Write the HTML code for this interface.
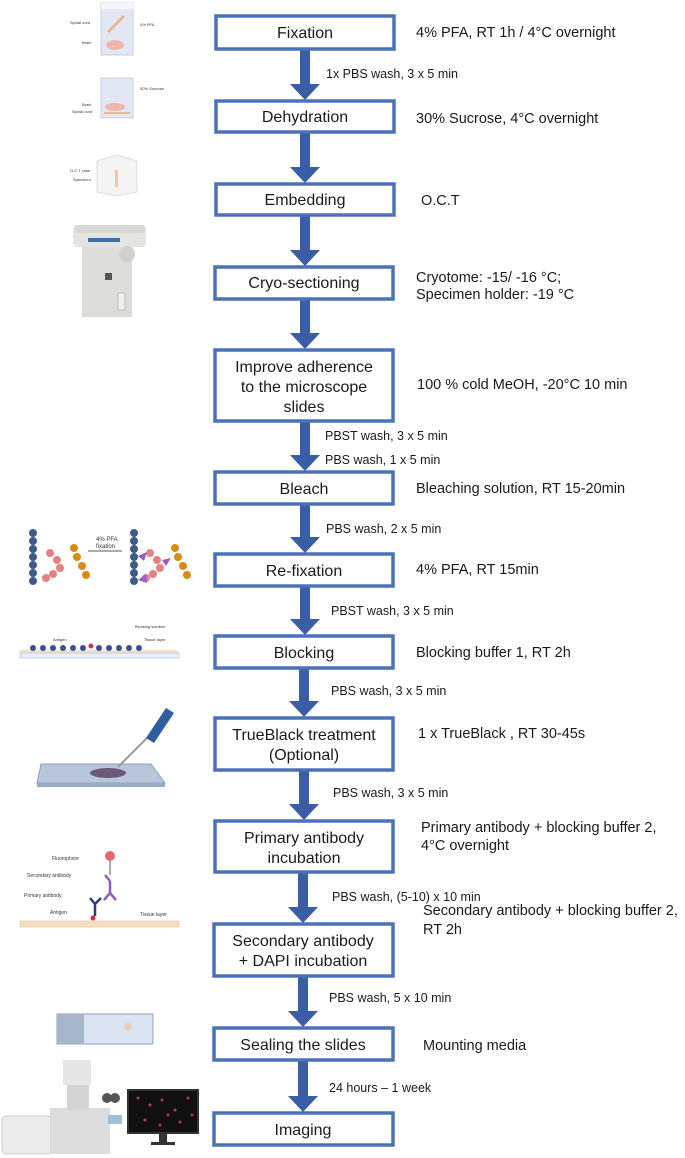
<!DOCTYPE html>
<html><head><meta charset="utf-8"><style>
html,body{margin:0;padding:0;background:#fff;}
svg{display:block;font-family:"Liberation Sans",Arial,sans-serif;}
.b{fill:#fff;stroke:#4a72b8;stroke-width:3.5;}
.t{font-size:16px;fill:#1a1a1a;text-anchor:middle;}
.s{font-size:14.5px;fill:#1a1a1a;}
.c{font-size:12.5px;fill:#1a1a1a;}
.a{fill:#3a5da6;}
.m{font-size:4px;fill:#333;}
</style></head><body>
<svg width="685" height="1158" viewBox="0 0 685 1158" xmlns="http://www.w3.org/2000/svg">
<g class="a">
<path d="M300,50 h10 v34 h10 l-15,16 l-15,-16 h10z"/>
<path d="M300,132 h10 v35 h10 l-15,16 l-15,-16 h10z"/>
<path d="M300,215 h10 v35 h10 l-15,16 l-15,-16 h10z"/>
<path d="M300,299 h10 v34 h10 l-15,16 l-15,-16 h10z"/>
<path d="M300,421 h10 v34 h10 l-15,16 l-15,-16 h10z"/>
<path d="M300,504 h10 v33 h10 l-15,16 l-15,-16 h10z"/>
<path d="M300,586 h10 v33 h10 l-15,16 l-15,-16 h10z"/>
<path d="M299,668 h10 v33 h10 l-15,16 l-15,-16 h10z"/>
<path d="M299,770 h10 v34 h10 l-15,16 l-15,-16 h10z"/>
<path d="M298,872 h10 v35 h10 l-15,16 l-15,-16 h10z"/>
<path d="M298,976 h10 v35 h10 l-15,16 l-15,-16 h10z"/>
<path d="M298,1060 h10 v36 h10 l-15,16 l-15,-16 h10z"/>
</g>
<rect class="b" x="216" y="16" width="178" height="33"/>
<text class="t" x="305" y="38">Fixation</text>
<rect class="b" x="216" y="101" width="178" height="31"/>
<text class="t" x="305" y="122">Dehydration</text>
<rect class="b" x="216" y="184" width="178" height="31"/>
<text class="t" x="305" y="205">Embedding</text>
<rect class="b" x="215" y="267" width="178" height="32"/>
<text class="t" x="304" y="288">Cryo-sectioning</text>
<rect class="b" x="215" y="350" width="178" height="71"/>
<text class="t" x="304" y="372">Improve adherence</text>
<text class="t" x="304" y="392">to the microscope</text>
<text class="t" x="304" y="412">slides</text>
<rect class="b" x="215" y="472" width="178" height="32"/>
<text class="t" x="304" y="494">Bleach</text>
<rect class="b" x="215" y="554" width="178" height="32"/>
<text class="t" x="304" y="576">Re-fixation</text>
<rect class="b" x="215" y="636" width="178" height="32"/>
<text class="t" x="304" y="658">Blocking</text>
<rect class="b" x="215" y="718" width="178" height="52"/>
<text class="t" x="304" y="740">TrueBlack treatment</text>
<text class="t" x="304" y="760">(Optional)</text>
<rect class="b" x="215" y="821" width="178" height="51"/>
<text class="t" x="304" y="843">Primary antibody</text>
<text class="t" x="304" y="863">incubation</text>
<rect class="b" x="214" y="924" width="179" height="52"/>
<text class="t" x="303" y="946">Secondary antibody</text>
<text class="t" x="303" y="966">+ DAPI incubation</text>
<rect class="b" x="214" y="1028" width="179" height="32"/>
<text class="t" x="303" y="1050">Sealing the slides</text>
<rect class="b" x="214" y="1113" width="179" height="32"/>
<text class="t" x="303" y="1135">Imaging</text>
<text class="s" x="416" y="37">4% PFA, RT 1h / 4°C overnight</text>
<text class="s" x="416" y="123">30% Sucrose, 4°C overnight</text>
<text class="s" x="421" y="205">O.C.T</text>
<text class="s" x="416" y="282">Cryotome: -15/ -16 °C;</text>
<text class="s" x="416" y="299">Specimen holder: -19 °C</text>
<text class="s" x="417" y="389">100 % cold MeOH, -20°C 10 min</text>
<text class="s" x="416" y="493">Bleaching solution, RT 15-20min</text>
<text class="s" x="416" y="574">4% PFA, RT 15min</text>
<text class="s" x="416" y="657">Blocking buffer 1, RT 2h</text>
<text class="s" x="418" y="738">1 x TrueBlack , RT 30-45s</text>
<text class="s" x="421" y="832">Primary antibody + blocking buffer 2,</text>
<text class="s" x="421" y="850">4°C overnight</text>
<text class="s" x="423" y="915">Secondary antibody + blocking buffer 2,</text>
<text class="s" x="423" y="934">RT 2h</text>
<text class="s" x="423" y="1050">Mounting media</text>
<text class="c" x="326" y="78">1x PBS wash, 3 x 5 min</text>
<text class="c" x="325" y="440">PBST wash, 3 x 5 min</text>
<text class="c" x="325" y="464">PBS wash, 1 x 5 min</text>
<text class="c" x="326" y="533">PBS wash, 2 x 5 min</text>
<text class="c" x="331" y="615">PBST wash, 3 x 5 min</text>
<text class="c" x="331" y="695">PBS wash, 3 x 5 min</text>
<text class="c" x="333" y="797">PBS wash, 3 x 5 min</text>
<text class="c" x="332" y="901">PBS wash, (5-10) x 10 min</text>
<text class="c" x="329" y="1002">PBS wash, 5 x 10 min</text>
<text class="c" x="329" y="1092">24 hours – 1 week</text>
<!-- fixation jar -->
<rect x="101" y="3" width="32" height="52" fill="#e3e7f4" stroke="#c5cfe0" stroke-width="1"/>
<rect x="101" y="3" width="32" height="6" fill="#f4f6fa"/>
<line x1="108" y1="32" x2="124" y2="16" stroke="#e9b98b" stroke-width="3"/>
<ellipse cx="115" cy="45" rx="9" ry="5" fill="#f0b6ab"/>
<text class="m" x="70" y="24">Spinal cord</text><text class="m" x="140" y="26">4% PFA</text><text class="m" x="82" y="44">Brain</text>
<rect x="101" y="78" width="32" height="40" fill="#e3e7f4" stroke="#c5cfe0" stroke-width="1"/>
<ellipse cx="115" cy="107" rx="10" ry="4" fill="#f0b6ab"/>
<rect x="104" y="112" width="26" height="2" fill="#e9b98b"/>
<text class="m" x="140" y="90">30% Sucrose</text><text class="m" x="82" y="106">Brain</text><text class="m" x="72" y="113">Spinal cord</text>
<path d="M97,161 l20,-6 l20,6 v31 l-20,4 l-20,-4z" fill="#f4f4f4" stroke="#ddd"/>
<rect x="115" y="170" width="3" height="17" fill="#ecc9a6"/>
<text class="m" x="70" y="172">O.C.T cube</text><text class="m" x="73" y="181">Specimen</text>
<!-- cryostat -->
<rect x="73" y="225" width="73" height="22" rx="4" fill="#e4e4e2"/>
<rect x="75" y="225" width="70" height="8" rx="3" fill="#d8d8d4"/>
<rect x="88" y="238" width="32" height="4" fill="#3e6fa8"/>
<rect x="82" y="247" width="50" height="70" fill="#dcdcd8"/>
<circle cx="127" cy="254" r="8" fill="#d0d0cc"/>
<rect x="105" y="273" width="7" height="7" fill="#555"/>
<rect x="118" y="293" width="7" height="17" fill="#f0f0f0" stroke="#bbb"/>
<!-- re-fixation -->
<g fill="#3c5a8c"><circle cx="33" cy="533" r="4"/><circle cx="33" cy="541" r="4"/><circle cx="33" cy="549" r="4"/><circle cx="33" cy="557" r="4"/><circle cx="33" cy="565" r="4"/><circle cx="33" cy="573" r="4"/><circle cx="33" cy="581" r="4"/>
<circle cx="134" cy="533" r="4"/><circle cx="134" cy="541" r="4"/><circle cx="134" cy="549" r="4"/><circle cx="134" cy="557" r="4"/><circle cx="134" cy="565" r="4"/><circle cx="134" cy="573" r="4"/><circle cx="134" cy="581" r="4"/></g>
<g fill="#e88080"><circle cx="50" cy="553" r="4"/><circle cx="57" cy="560" r="4"/><circle cx="60" cy="568" r="4"/><circle cx="53" cy="574" r="4"/><circle cx="46" cy="578" r="4"/><circle cx="150" cy="553" r="4"/><circle cx="157" cy="560" r="4"/><circle cx="160" cy="568" r="4"/><circle cx="153" cy="574" r="4"/><circle cx="146" cy="578" r="4"/></g>
<g fill="#d88c14"><circle cx="74" cy="548" r="4"/><circle cx="77" cy="557" r="4"/><circle cx="82" cy="566" r="4"/><circle cx="86" cy="575" r="4"/><circle cx="175" cy="548" r="4"/><circle cx="178" cy="557" r="4"/><circle cx="183" cy="566" r="4"/><circle cx="187" cy="575" r="4"/></g>
<g fill="#9a5cc8"><path d="M138,556 l9,-4 l-3,9z"/><path d="M162,560 l9,-2 l-5,8z"/><path d="M138,580 l8,-6 l1,9z"/></g>
<line x1="88" y1="551" x2="122" y2="551" stroke="#555" stroke-width="1"/>
<text class="m" x="96" y="541" style="font-size:6px">4% PFA</text><text class="m" x="96" y="548" style="font-size:6px">fixation</text>
<!-- blocking slide -->
<path d="M20,650 h156 l3,3 H20z" fill="#f6dfc0"/>
<rect x="20" y="653" width="159" height="5" fill="#e8eefa" stroke="#b9c8e4" stroke-width="0.8"/>
<g fill="#3b4f9a"><circle cx="33" cy="648" r="3"/><circle cx="43" cy="648" r="3"/><circle cx="53" cy="648" r="3"/><circle cx="63" cy="648" r="3"/><circle cx="73" cy="648" r="3"/><circle cx="83" cy="648" r="3"/><circle cx="99" cy="648" r="3"/><circle cx="109" cy="648" r="3"/><circle cx="119" cy="648" r="3"/><circle cx="129" cy="648" r="3"/><circle cx="139" cy="648" r="3"/></g>
<circle cx="91" cy="646" r="2.5" fill="#d3304a"/>
<text class="m" x="53" y="641">Antigen</text><text class="m" x="135" y="628">Blocking solution</text><text class="m" x="144" y="641">Tissue layer</text>
<!-- trueblack slide -->
<path d="M41,764 h110 l14,19 H37z" fill="#b8c6dc" stroke="#8ea0bd"/>
<rect x="37" y="783" width="128" height="4" fill="#9aabc7"/>
<ellipse cx="108" cy="773" rx="18" ry="5" fill="#6a5a78"/>
<line x1="118" y1="767" x2="150" y2="735" stroke="#999" stroke-width="2"/>
<path d="M146,738 l20,-30 l8,5 l-20,30z" fill="#2f5e9e"/>
<!-- antibody -->
<rect x="20" y="921" width="159" height="6" fill="#f6dfc0" stroke="#d9c49e" stroke-width="0.6"/>
<circle cx="93" cy="918" r="2.5" fill="#d3304a"/>
<path d="M95,916 v-12 M95,904 l-5,-6 M95,904 l6,-6" stroke="#2d3a82" stroke-width="2.5" fill="none"/>
<path d="M110,893 v-12 M110,881 l-5,-6 M110,893 l-6,7 M110,893 l6,7" stroke="#8f5dc0" stroke-width="2.5" fill="none"/>
<line x1="110" y1="875" x2="110" y2="860" stroke="#555"/>
<circle cx="110" cy="856" r="5" fill="#e46a6a"/>
<text class="m" x="52" y="860" style="font-size:5px">Fluorophore</text><text class="m" x="27" y="877" style="font-size:5px">Secondary antibody</text><text class="m" x="24" y="897" style="font-size:5px">Primary antibody</text><text class="m" x="50" y="914" style="font-size:5px">Antigen</text><text class="m" x="140" y="916" style="font-size:5px">Tissue layer</text>
<!-- sealed slide -->
<rect x="57" y="1014" width="96" height="30" fill="#dbe4f2" stroke="#8ea0bd"/>
<rect x="57" y="1014" width="27" height="30" fill="#a8b6cc"/>
<circle cx="128" cy="1027" r="4" fill="#ecd0b8"/>
<!-- microscope -->
<rect x="2" y="1116" width="50" height="38" rx="4" fill="#ebebeb" stroke="#ccc"/>
<rect x="50" y="1108" width="60" height="46" fill="#dcdcdc"/>
<rect x="63" y="1060" width="28" height="25" fill="#e6e6e6"/>
<rect x="67" y="1085" width="22" height="25" fill="#d4d4d4"/>
<circle cx="107" cy="1098" r="5" fill="#555"/><circle cx="115" cy="1098" r="5" fill="#555"/>
<rect x="108" y="1115" width="14" height="9" fill="#9dc0d8"/>
<rect x="128" y="1090" width="70" height="43" fill="#111" stroke="#333" stroke-width="2"/>
<g fill="#c03060"><circle cx="138" cy="1098" r="1.5"/><circle cx="150" cy="1105" r="1.5"/><circle cx="162" cy="1100" r="1.5"/><circle cx="175" cy="1110" r="1.5"/><circle cx="188" cy="1098" r="1.5"/><circle cx="145" cy="1120" r="1.5"/><circle cx="160" cy="1125" r="1.5"/><circle cx="180" cy="1122" r="1.5"/><circle cx="192" cy="1115" r="1.5"/><circle cx="168" cy="1115" r="1.5"/></g>
<rect x="159" y="1133" width="8" height="10" fill="#333"/><rect x="151" y="1142" width="24" height="3" fill="#333"/>
</svg>
</body></html>
